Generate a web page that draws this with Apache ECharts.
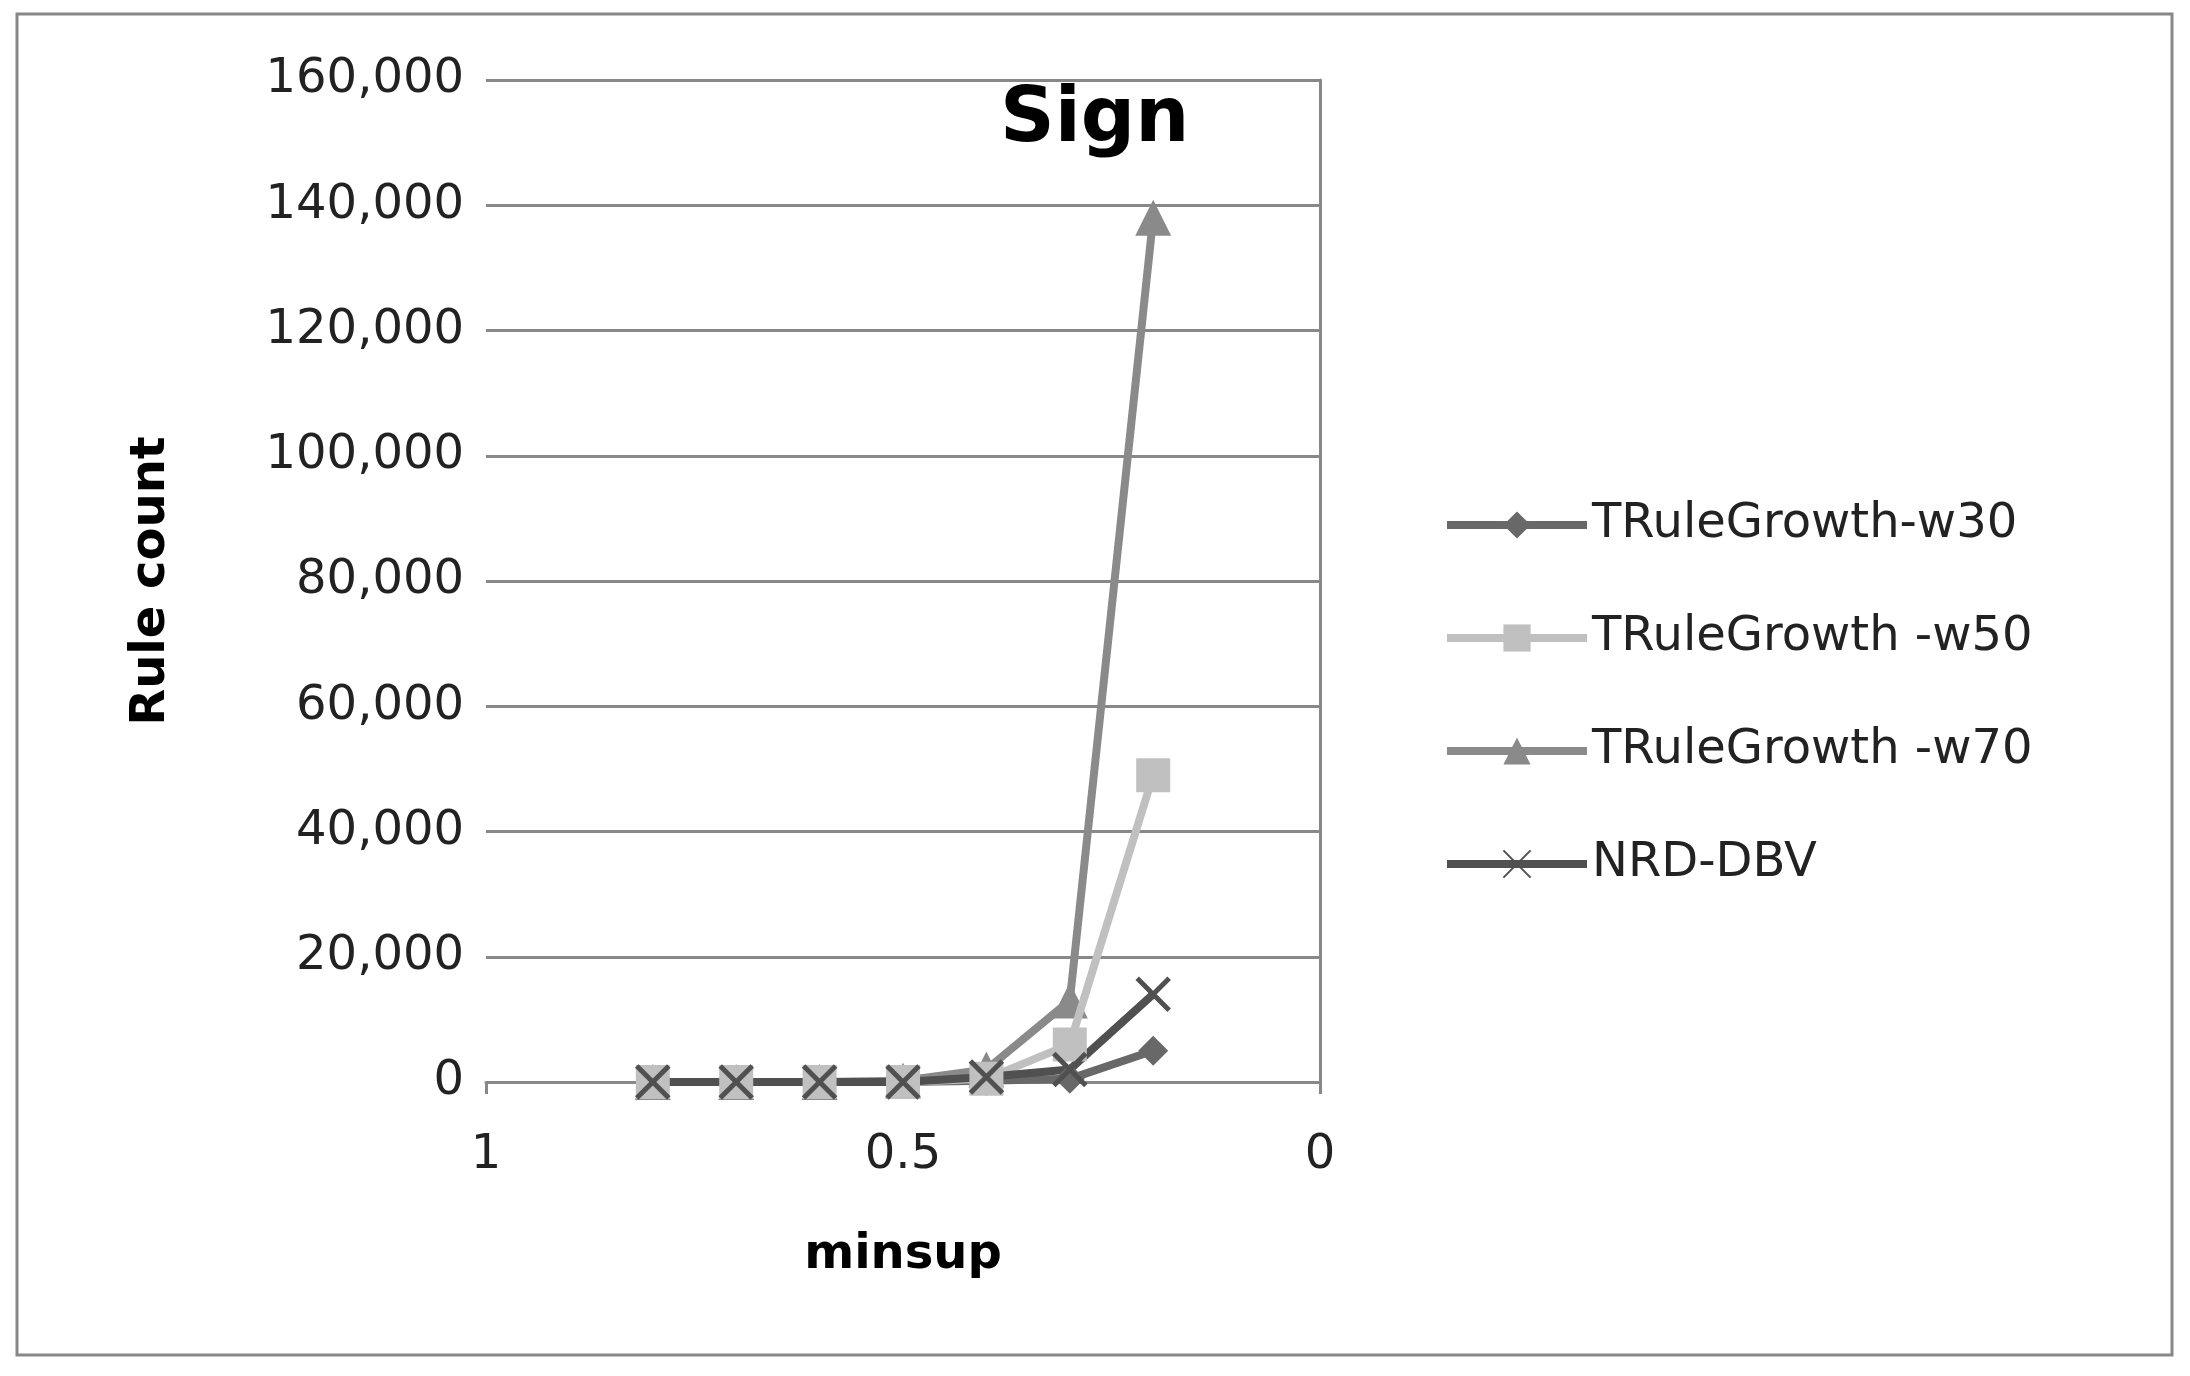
<!DOCTYPE html>
<html><head><meta charset="utf-8">
<script src="https://cdn.jsdelivr.net/npm/echarts@6/dist/echarts.min.js"></script>
<style>html,body{margin:0;padding:0;background:#fff}#c{width:2190px;height:1376px}</style>
</head><body><div id="c"></div>
<script>
const minsup = [0.8, 0.7, 0.6, 0.5, 0.4, 0.3, 0.2];
const w30 = [0, 0, 0, 0, 200, 500, 5000];
const w50 = [0, 0, 0, 0, 500, 6000, 49000];
const w70 = [0, 0, 0, 200, 2000, 13000, 138000];
const nrd = [0, 0, 0, 0, 800, 2000, 14000];
const names = ['TRuleGrowth-w30', 'TRuleGrowth -w50', 'TRuleGrowth -w70', 'NRD-DBV'];
const colors = ['#686868', '#c0c0c0', '#8a8a8a', '#505050'];
const symbols = ['diamond', 'rect', 'triangle', 'path://M0,0L2,2M2,0L0,2'];
const sizes = [30, 34, 36, 32];
const pair = v => minsup.map((x, i) => [x, v[i]]);
const data = [w30, w50, w70, nrd];
const chart = echarts.init(document.getElementById('c'));
const font = '"DejaVu Sans", Verdana, sans-serif';
chart.setOption({
  textStyle: {fontFamily: font},
  title: {text: 'Sign', left: 995, top: 78, textStyle: {fontSize: 76, fontWeight: 'bold', color: '#000', fontFamily: font}},
  graphic: [{type: 'rect', shape: {x: 17, y: 14, width: 2155, height: 1341}, style: {fill: 'none', stroke: '#888', lineWidth: 3}}],
  legend: {orient: 'vertical', left: 1438, top: 496, itemWidth: 140, itemHeight: 34, itemGap: 65,
    lineStyle: {width: 8},
    textStyle: {fontSize: 48, color: '#222', fontFamily: font},
    data: names},
  grid: {left: 486, right: 870, top: 80, bottom: 294},
  xAxis: {type: 'value', min: 0, max: 1, interval: 0.5, inverse: true,
    name: 'minsup', nameLocation: 'middle', nameGap: 150,
    nameTextStyle: {fontSize: 48, fontWeight: 'bold', color: '#000'},
    axisLine: {lineStyle: {color: '#888', width: 3}}, axisTick: {show: true, length: 12, lineStyle: {color: '#888', width: 3}},
    axisLabel: {fontSize: 48, color: '#222', margin: 50}, splitLine: {show: false}},
  yAxis: {type: 'value', min: 0, max: 160000, interval: 20000,
    name: 'Rule count', nameLocation: 'middle', nameGap: 310,
    nameTextStyle: {fontSize: 48, fontWeight: 'bold', color: '#000'},
    axisLine: {show: true, lineStyle: {color: '#888', width: 3}}, axisTick: {show: true, length: 12, lineStyle: {color: '#888', width: 3}},
    axisLabel: {fontSize: 48, color: '#222', margin: 22, formatter: v => v.toLocaleString('en-US')},
    splitLine: {lineStyle: {color: '#888', width: 3}}},
  series: names.map((n, i) => ({
    name: n, type: 'line', data: pair(data[i]), symbol: symbols[i], symbolSize: sizes[i],
    lineStyle: {color: colors[i], width: 8}, itemStyle: {color: colors[i], borderColor: colors[i], borderWidth: i === 3 ? 5 : 0},
    z: i === 2 ? 1 : 2
  }))
});
</script></body></html>
